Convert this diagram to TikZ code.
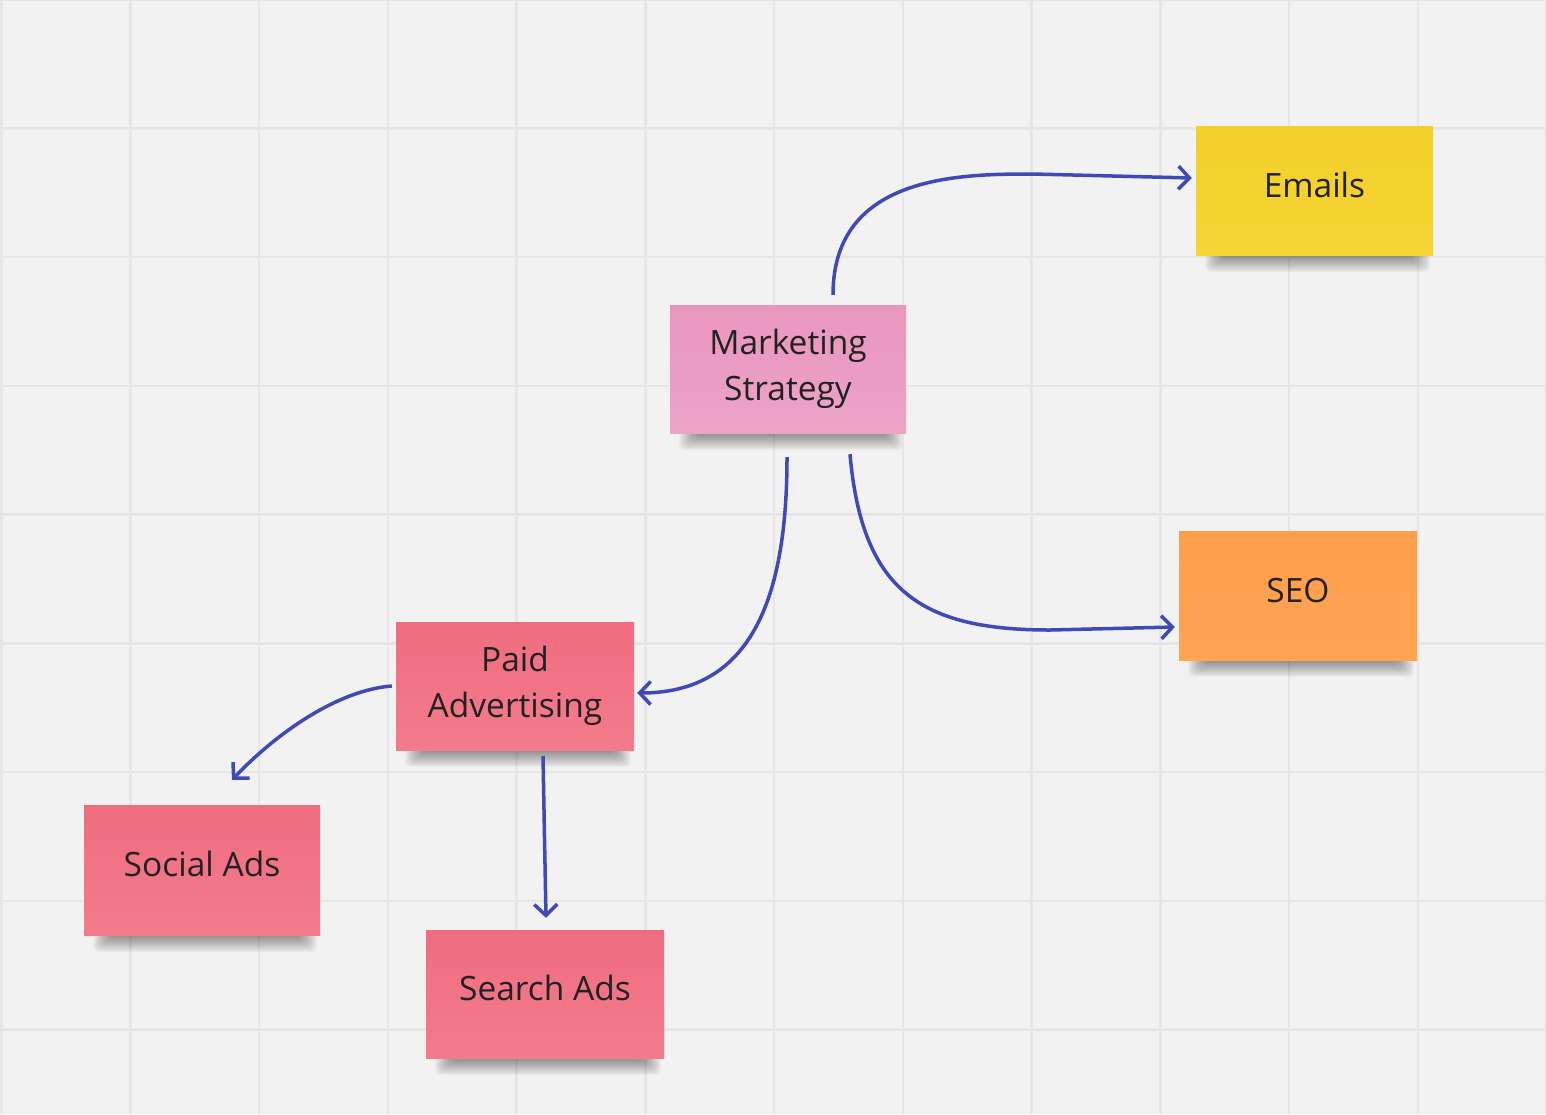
\documentclass[tikz,border=0pt]{standalone}
\usepackage{fontspec}
\setmainfont{Open Sans}
\usetikzlibrary{arrows.meta,backgrounds}
\definecolor{bg}{HTML}{F2F2F2}
\definecolor{gridc}{HTML}{E6E6E6}
\definecolor{arrowc}{HTML}{4049B5}
\definecolor{txt}{HTML}{222222}
\definecolor{pinkA}{HTML}{E996BE}
\definecolor{pinkB}{HTML}{EDA3C7}
\definecolor{yelA}{HTML}{F2CF2B}
\definecolor{yelB}{HTML}{F5D533}
\definecolor{orA}{HTML}{FD9E4C}
\definecolor{orB}{HTML}{FFA454}
\definecolor{redA}{HTML}{EF6D80}
\definecolor{redB}{HTML}{F37B8C}
\begin{document}
\begin{tikzpicture}[x=1pt,y=-1pt,
  note/.style={rectangle, inner sep=0pt, minimum width=237pt, minimum height=129pt,
    align=center, text=txt, font=\fontsize{33.5}{45.5}\selectfont},
  oneline/.style={text height=25pt, text depth=12pt},
  pinknote/.style={note, top color=pinkA, bottom color=pinkB},
  yellownote/.style={note, top color=yelA, bottom color=yelB},
  orangenote/.style={note, top color=orA, bottom color=orB},
  rednote/.style={note, top color=redA, bottom color=redB},
  gridline/.style={draw=gridc, line width=2.5pt},
  shadowlayer/.style={fill=black, opacity=0.032, rounded corners=5pt},
  arr/.style={draw=arrowc, line width=3.5pt, -{Straight Barb[length=11pt,width=23pt]}},
]
\useasboundingbox (0,0) rectangle (1546,1114);
\begin{pgfonlayer}{background}
  \fill[bg] (0,0) rectangle (1546,1114);
  \foreach \k in {0,...,12} \draw[gridline] ({1.5+128.75*\k},0) -- ({1.5+128.75*\k},1114);
  \foreach \k in {0,...,8} \draw[gridline] (0,{-0.5+128.75*\k}) -- (1546,{-0.5+128.75*\k});
\end{pgfonlayer}

% notes
\node[pinknote, minimum width=236pt, minimum height=128pt] (mkt) at (788,369) {Marketing\\Strategy};
\node[yellownote, oneline] (emails) at (1314.5,190.5) {Emails};
\node[orangenote, oneline, minimum width=238pt] (seo) at (1298,595.5) {SEO};
\node[rednote, minimum width=238pt, minimum height=128pt] (paid) at (515,686) {Paid\\Advertising};
\node[rednote, oneline, minimum width=236pt, minimum height=130pt] (social) at (202,870) {Social Ads};
\node[rednote, oneline, minimum width=238pt, minimum height=128pt] (search) at (545,994) {Search Ads};

% shadows
\begin{pgfonlayer}{background}
  \foreach \n in {mkt,emails,seo,paid,social,search}{
    \foreach \i in {1,...,14}{
      \path[shadowlayer]
        ([xshift={8pt+1.3pt*\i}, yshift=14pt]\n.south west) rectangle
        ([xshift={-2pt-1.3pt*\i}, yshift={-18pt+1.15pt*\i}]\n.south east);
    }
  }
\end{pgfonlayer}

% connectors
\coordinate (e1) at (1033,174);
\draw[arr] ([xshift=45pt,yshift=10pt]mkt.north) .. controls +(0,-120) and +(-73,0) .. (e1)
  -- ([xshift=-4pt,yshift=12.5pt]emails.west);
\coordinate (s1) at (1050,630);
\draw[arr] ([xshift=62pt,yshift=-21pt]mkt.south) .. controls +(12,136) and +(-130,0) .. (s1)
  -- ([xshift=-4pt,yshift=-31.5pt]seo.west);
\draw[arr] ([xshift=-1pt,yshift=-24pt]mkt.south) .. controls +(0,143) and +(113,0) ..
  ([xshift=3pt,yshift=-7pt]paid.east);
\draw[arr] ([xshift=-4pt]paid.west) .. controls +(-52,4) and +(48,-50) ..
  ([xshift=30pt,yshift=25pt]social.north);
\draw[arr] ([xshift=28pt,yshift=-6pt]paid.south) -- ([xshift=1pt,yshift=12pt]search.north);
\end{tikzpicture}
\end{document}
